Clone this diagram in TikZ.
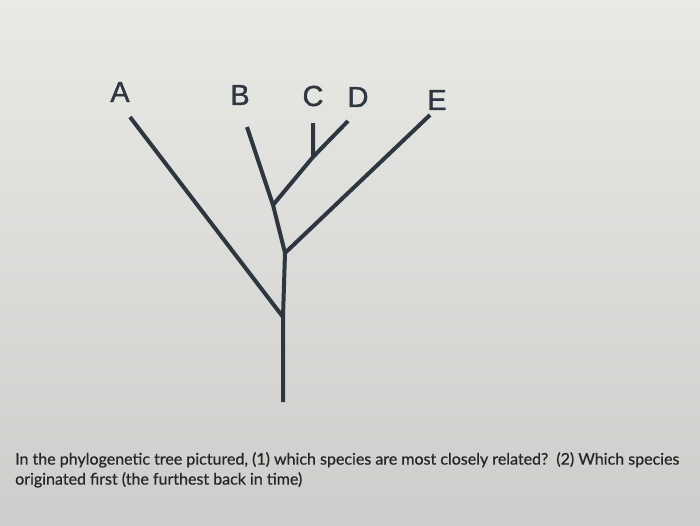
\documentclass[tikz,border=0pt]{standalone}
\usepackage{fontspec}
\setmainfont{Liberation Sans}
\newfontfamily\qfont[FakeBold=0.6]{Lato}
\newfontfamily\lblfont[FakeBold=1.2]{Liberation Sans}
\usetikzlibrary{positioning}
\definecolor{branchcol}{HTML}{2E3640}
\definecolor{bgtop}{HTML}{E9E9E6}
\definecolor{bgbot}{HTML}{CDCDCB}
\tikzset{branch/.style={line width=4pt, branchcol, line cap=butt},
  taxon/.style={font=\lblfont\fontsize{29}{29}\selectfont, text=branchcol, inner sep=0pt}}

\begin{document}
\begin{tikzpicture}[x=1pt,y=-1pt]
\shade[top color=bgtop, bottom color=bgbot] (0,0) rectangle (700,525);
\useasboundingbox (0,0) rectangle (700,525);
% tree
\coordinate (root) at (283,402);
\coordinate (nA) at (283,317);
\coordinate (nE) at (285,253);
\coordinate (nB) at (273,205);
\coordinate (nCD) at (313,157);
\coordinate (tA) at (130,117);
\coordinate (tB) at (247,127);
\coordinate (tC) at (313,123);
\coordinate (tD) at (348,121);
\coordinate (tE) at (430,115);
\draw[branch] (root)--(nA)--(nE)--(nB)--(tB);
\draw[branch] (nA)--(tA) (nE)--(tE) (nB)--(nCD)--(tD) (nCD)--(tC);
\node[taxon] (A) at (120,92) {A};
\node[taxon] (B) at (240,95) {B};
\node[taxon] (C) at (313,96) {C};
\node[taxon] (D) at (358,97) {D};
\node[taxon] (E) at (437,100) {E};
% question
\node[anchor=north west, align=left, inner sep=0pt, text=black!85,
  font=\qfont\fontsize{16}{20}\selectfont] (q) at (15,452)
  {In the phylogenetic tree pictured, (1) which species are most closely related?\ \ (2) Which species\\
   originated first (the furthest back in time)};
\end{tikzpicture}
\end{document}
